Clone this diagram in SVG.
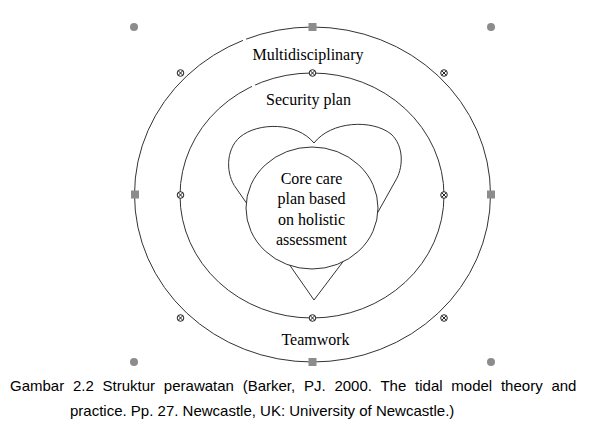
<svg xmlns="http://www.w3.org/2000/svg" width="601" height="445" viewBox="0 0 601 445">
<style>
.ln{fill:none;stroke:#333;stroke-width:1}
.wf{fill:#fff;stroke:#333;stroke-width:1}
.lbl{font-family:"Liberation Serif","Times New Roman",serif;font-size:16px;fill:#000;text-anchor:middle}
.cap{font-family:"Liberation Sans",Arial,sans-serif;font-size:15px;fill:#000}
.h{fill:#8c8c8c}
.x{fill:#fff;stroke:#222;stroke-width:1}
</style>
<defs>
<g id="xm"><circle r="3.3" class="x"/><path d="M-2.2,-2.2L2.2,2.2M2.2,-2.2L-2.2,2.2" stroke="#222" stroke-width="1"/></g>
</defs>
<rect width="601" height="445" fill="#fff"/>
<g id="outer">
<ellipse cx="312.5" cy="194.5" rx="178" ry="167.5" class="ln"/>
<circle cx="244.5" cy="39.7" r="1.8" fill="#fff"/>
</g>
<g id="middle">
<ellipse cx="312" cy="195.5" rx="132" ry="122.5" class="ln"/>
<circle cx="253.5" cy="85.7" r="1.8" fill="#fff"/>
</g>
<g id="heart">
<path class="wf" d="M314,300 L236,188 C226,175 225,150 240,137 C258,122 297,122 314,143 C331,121 372,119 391,134 C404,146 403,166 397,178 L378,212 L342,263 Z"/>
</g>
<g id="core">
<ellipse cx="312" cy="208" rx="66" ry="61" class="wf"/>
<text class="lbl" x="311.5" y="183.5">Core care</text>
<text class="lbl" x="311.5" y="204">plan based</text>
<text class="lbl" x="311.5" y="224.5">on holistic</text>
<text class="lbl" x="311.5" y="245">assessment</text>
</g>
<g id="labels">
<text class="lbl" x="308" y="60">Multidisciplinary</text>
<text class="lbl" x="308.5" y="104.5">Security plan</text>
<text class="lbl" x="315.5" y="344.5">Teamwork</text>
</g>
<g id="handles">
<circle class="h" cx="134" cy="27" r="4"/>
<circle class="h" cx="491" cy="27" r="4"/>
<circle class="h" cx="134" cy="362" r="4"/>
<circle class="h" cx="491" cy="362" r="4"/>
<rect class="h" x="308.5" y="23" width="8" height="8"/>
<rect class="h" x="308.5" y="358" width="8" height="8"/>
<rect class="h" x="131" y="190.5" width="8" height="8"/>
<rect class="h" x="487" y="190.5" width="8" height="8"/>
<use href="#xm" x="180.5" y="73"/>
<use href="#xm" x="312.5" y="73"/>
<use href="#xm" x="444" y="73"/>
<use href="#xm" x="180.5" y="195"/>
<use href="#xm" x="444" y="195"/>
<use href="#xm" x="180.5" y="318"/>
<use href="#xm" x="312.5" y="318"/>
<use href="#xm" x="444" y="318"/>
</g>
<g id="caption">
<text class="cap" x="10" y="391" word-spacing="4.6">Gambar 2.2 Struktur perawatan (Barker, PJ. 2000. The tidal model theory and</text>
<text class="cap" x="70" y="416">practice. Pp. 27. Newcastle, UK: University of Newcastle.)</text>
</g>
</svg>
